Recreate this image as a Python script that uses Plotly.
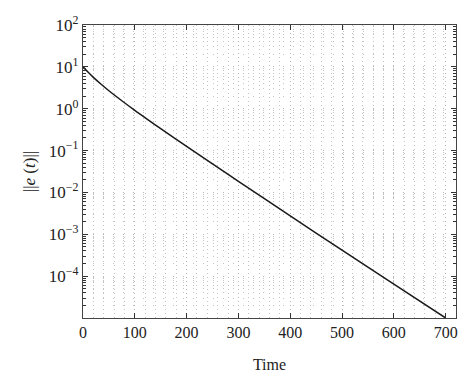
import plotly.graph_objects as go

time = [0, 10, 20, 35, 50, 75, 100, 125, 150, 200, 250, 300, 400, 500, 600, 700]
error_norm = [10, 7.41, 5.62, 3.84, 2.69, 1.55, 0.912, 0.550, 0.335, 0.126,
              0.0479, 0.0184, 0.00275, 4.17e-4, 6.46e-5, 1.0e-5]

x_ticks = [0, 100, 200, 300, 400, 500, 600, 700]
y_ticks = [1e-4, 1e-3, 1e-2, 1e-1, 1e0, 1e1, 1e2]
y_tick_text = ["10<sup>−4</sup>", "10<sup>−3</sup>", "10<sup>−2</sup>", "10<sup>−1</sup>",
               "10<sup>0</sup>", "10<sup>1</sup>", "10<sup>2</sup>"]
x_minor = [v for v in range(0, 721, 20)]
y_minor = [m * 10.0 ** e for e in range(-5, 2) for m in range(2, 10)]

font_family = "Liberation Serif"

fig = go.Figure()
fig.add_trace(go.Scatter(x=time, y=error_norm, mode="lines",
                         line=dict(color="#1a1a1a", width=1.5, shape="spline", smoothing=0.8),
                         showlegend=False))

fig.update_layout(
    width=466, height=380,
    margin=dict(l=75, r=18, t=17, b=70),
    paper_bgcolor="white", plot_bgcolor="white",
    font=dict(family=font_family, size=16, color="#222"),
)
fig.update_xaxes(
    range=[0, 720], tickmode="array", tickvals=x_ticks,
    ticks="inside", ticklen=5, tickcolor="#333",
    showline=True, linecolor="#444", linewidth=1.2, mirror="ticks",
    showgrid=True, gridcolor="#b8b8b8", griddash="1px,3px", gridwidth=1,
    minor=dict(tickmode="array", tickvals=x_minor, showgrid=True, gridcolor="#c4c4c4",
               griddash="1px,3px", gridwidth=1, ticks=""),
    zeroline=False, automargin=False,
    tickfont=dict(size=16),
    title=dict(text="Time", font=dict(size=16), standoff=18),
)
fig.update_yaxes(
    type="log", range=[-5, 2], tickmode="array", tickvals=y_ticks, ticktext=y_tick_text,
    ticks="inside", ticklen=5, tickcolor="#333",
    showline=True, linecolor="#444", linewidth=1.2, mirror="ticks",
    showgrid=True, gridcolor="#b8b8b8", griddash="1px,9px", gridwidth=1,
    minor=dict(tickmode="array", tickvals=y_minor, showgrid=True, gridcolor="#c4c4c4",
               griddash="1px,9px", gridwidth=1, ticks="inside", ticklen=3, tickcolor="#333"),
    zeroline=False, automargin=False,
    tickfont=dict(size=17),
    title=dict(text="||<i>e</i> (<i>t</i>)||", font=dict(size=17), standoff=8),
)

fig.write_html("out.html")
